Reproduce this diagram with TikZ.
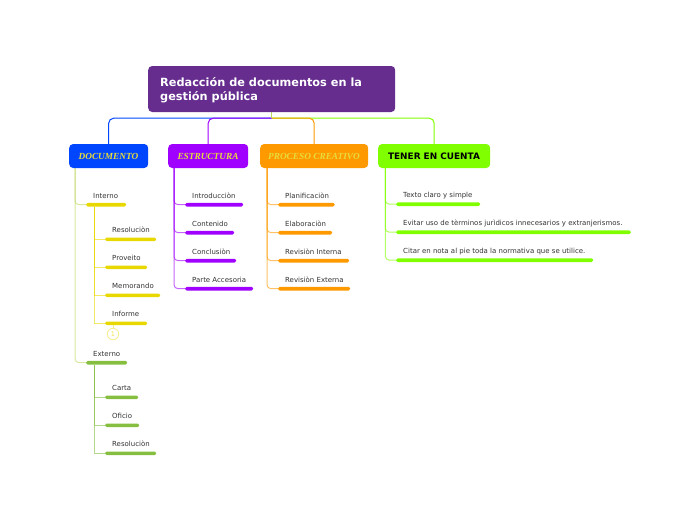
\documentclass[tikz,border=0pt]{standalone}
\usepackage{fontspec}
\setmainfont{DejaVu Sans}
\newfontfamily\decofont{Liberation Serif}
\usetikzlibrary{backgrounds}
\definecolor{cRoot}{HTML}{662D8F}
\definecolor{cDoc}{HTML}{0046FF}
\definecolor{cEst}{HTML}{A000FF}
\definecolor{cPro}{HTML}{FF9900}
\definecolor{cTen}{HTML}{80FF00}
\definecolor{cYel}{HTML}{E8D800}
\definecolor{cGrn}{HTML}{86BE40}
\definecolor{cOlive}{HTML}{BCD860}
\definecolor{cDeco}{HTML}{E6DC3C}
\definecolor{cTxt}{HTML}{333333}
\tikzset{
  rootbox/.style={rectangle,rounded corners=4pt,fill=cRoot,anchor=west,inner sep=0pt,minimum height=46pt,minimum width=247pt},
  roottext/.style={text=white,font=\fontsize{11.3}{14}\selectfont\bfseries,align=left,anchor=west,inner sep=0pt},
  branchbox/.style={rectangle,rounded corners=4pt,anchor=west,inner sep=0pt,minimum height=24pt},
  deco/.style={text=cDeco,font=\decofont\fontsize{9.3}{12}\selectfont\bfseries\itshape},
  kidbar/.style={rectangle,rounded corners=1.5pt,inner sep=0pt,anchor=west,minimum height=3.6pt},
  kidtext/.style={anchor=base west,inner sep=0pt,text=cTxt,font=\fontsize{6.98}{8}\selectfont},
  rootlink/.style={line width=1pt,rounded corners=5pt},
  kidlink/.style={line width=1pt,rounded corners=4pt,opacity=.6},
  sublink/.style={line width=1pt,opacity=.6},
}
\newcommand{\kidnode}[6]{%
  \node[kidbar,fill=#5,minimum width=#3pt] (#1) at (#2,#4) {};
  \node[kidtext] (#1t) at (#2+7,#4-6.6) {#6};
}
\begin{document}
\begin{tikzpicture}[x=1pt,y=-1pt]
\useasboundingbox (0,0) rectangle (697,520);
\node[rootbox] (root) at (148,89) {};
\node[roottext] (roott) at (160,90) {Redacción de documentos en la\\gestión pública};
\coordinate (hub) at ([yshift=-6pt]root.south);
\node[branchbox,fill=cDoc,minimum width=79pt] (doc) at (69,156) {};
\node[deco] (doct) at (108.5,156) {DOCUMENTO};
\node[branchbox,fill=cEst,minimum width=80pt] (est) at (168,156) {};
\node[deco] (estt) at (208,156) {ESTRUCTURA};
\node[branchbox,fill=cPro,minimum width=108pt] (pro) at (260,156) {};
\node[deco] (prot) at (314,156) {PROCESO CREATIVO};
\node[branchbox,fill=cTen,minimum width=112pt] (ten) at (378,156) {};
\node[font=\fontsize{8.9}{10}\selectfont\bfseries,text=black] (tent) at (434,156.3) {TENER EN CUENTA};
% DOCUMENTO
\kidnode{interno}{86}{40}{204.7}{cYel}{Interno}
\kidnode{reso}{105}{51}{239.3}{cYel}{Resoluciòn}
\kidnode{prov}{105}{42}{267.3}{cYel}{Proveito}
\kidnode{memo}{105}{55}{295.3}{cYel}{Memorando}
\kidnode{info}{105}{42}{323.3}{cYel}{Informe}
\node[circle,draw=cYel!45,line width=.8pt,minimum size=11.5pt,inner sep=0pt,text=cYel!70,font=\fontsize{6.5}{7}\selectfont] (count) at (113,334) {1};
\kidnode{externo}{86}{41}{362.7}{cGrn}{Externo}
\kidnode{carta}{105}{33}{397.3}{cGrn}{Carta}
\kidnode{oficio}{105}{34}{425.3}{cGrn}{Oficio}
\kidnode{resob}{105}{51}{453.3}{cGrn}{Resoluciòn}
% ESTRUCTURA
\kidnode{intro}{185}{58}{204.7}{cEst}{Introducciòn}
\kidnode{cont}{185}{49}{232.7}{cEst}{Contenido}
\kidnode{conc}{185}{51}{260.7}{cEst}{Conclusiòn}
\kidnode{parte}{185}{68}{288.7}{cEst}{Parte Accesoria}
% PROCESO
\kidnode{plan}{278}{56.5}{204.7}{cPro}{Planificaciòn}
\kidnode{elab}{278}{54}{232.7}{cPro}{Elaboraciòn}
\kidnode{revi}{278}{71}{260.7}{cPro}{Revisiòn Interna}
\kidnode{reve}{278}{72}{288.7}{cPro}{Revisiòn Externa}
% TENER
\kidnode{texto}{396}{84}{204.2}{cTen}{Texto claro y simple}
\kidnode{evitar}{396}{234.7}{232.2}{cTen}{Evitar uso de tèrminos jurìdicos innecesarios y extranjerismos.}
\kidnode{citar}{396}{197}{260.2}{cTen}{Citar en nota al pie toda la normativa que se utilice.}
\begin{scope}[on background layer]
  \draw[rootlink,cTen] (hub) -| (ten.north);
  \draw[rootlink,cPro] (hub) -| (pro.north);
  \draw[rootlink,cDoc] (hub) -| (doc.north);
  \draw[rootlink,cEst] (hub) -| (est.north);
  \draw[line width=1pt,cOlive] (root.south) -- (hub);
  \foreach \k in {interno,externo}
    \draw[kidlink,cOlive] ([xshift=6pt]doc.south west) |- (\k.west);
  \foreach \k in {reso,prov,memo,info}
    \draw[sublink,cYel] ([xshift=8pt]interno.south west) |- (\k.west);
  \foreach \k in {carta,oficio,resob}
    \draw[sublink,cGrn] ([xshift=8pt]externo.south west) |- (\k.west);
  \foreach \k in {intro,cont,conc,parte}
    \draw[kidlink,cEst] ([xshift=6pt]est.south west) |- (\k.west);
  \foreach \k in {plan,elab,revi,reve}
    \draw[kidlink,cPro] ([xshift=7pt]pro.south west) |- (\k.west);
  \foreach \k in {texto,evitar,citar}
    \draw[kidlink,cTen] ([xshift=7.3pt]ten.south west) |- (\k.west);
  \draw[cYel!45,line width=.8pt] (info.south -| count.north) -- (count.north);
\end{scope}
\end{tikzpicture}
\end{document}
